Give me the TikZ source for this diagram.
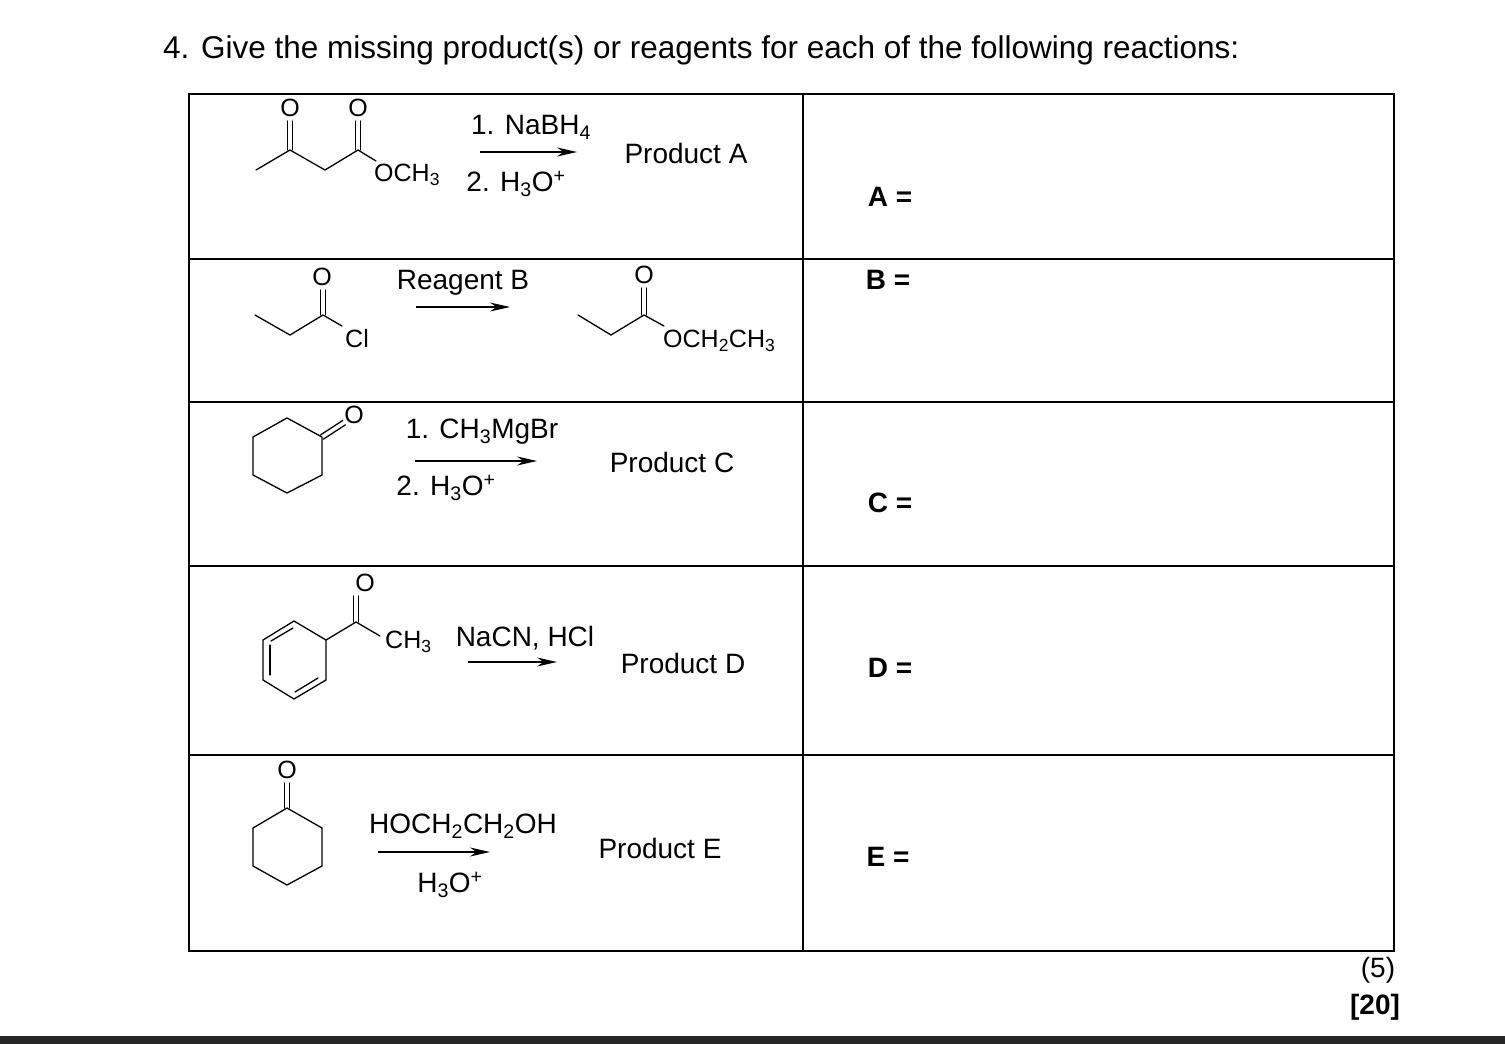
\documentclass[tikz,border=0pt]{standalone}
\usepackage{fontspec}
\setmainfont{Liberation Sans}
\usetikzlibrary{arrows.meta}
\begin{document}
\begin{tikzpicture}[x=1pt,y=-1pt,
  bond/.style={line width=1.3pt,line cap=round},
  grid/.style={line width=1.4pt},
  rxn/.style={line width=1.4pt,-{Stealth[length=20pt,width=9pt]}},
  lbl/.style={font=\fontsize{28}{30}\selectfont,inner sep=0pt},
  atom/.style={font=\fontsize{25}{27}\selectfont,inner sep=1pt},
  ans/.style={font=\fontsize{28}{30}\selectfont\bfseries,inner sep=0pt}]
\useasboundingbox (0,0) rectangle (1505,1044);
\fill[white] (0,0) rectangle (1505,1044);
\fill[black!85] (0,1036) rectangle (1505,1044);
\node[font=\fontsize{31.5}{34}\selectfont,anchor=west,inner sep=0pt] (title) at (163,50) {4. Give the missing product(s) or reagents for each of the following reactions:};
% table
\draw[grid] (189,94) rectangle (1394,951);
\foreach \y in {259,402,566,755} \draw[grid] (189,\y) -- (1394,\y);
\draw[grid] (803,94) -- (803,951);
% Row 1
\draw[bond] (256,170) -- (290,150) -- (325,170) -- (358,150) -- (376,161);
\draw[bond] (287.4,150) -- (287.4,121); \draw[bond] (292.6,150) -- (292.6,121);
\draw[bond] (355.4,150) -- (355.4,121); \draw[bond] (360.6,150) -- (360.6,121);
\node[atom] (o1a) at (290,108) {O};
\node[atom] (o1b) at (358,108) {O};
\node[atom,anchor=west] (och3) at (373,175) {OCH\textsubscript{3}};
\coordinate (a1s) at (480,152); \coordinate (a1e) at (577,152);
\draw[rxn] (a1s) -- (a1e);
\node[lbl] (r1a) at (531,127) {1. NaBH\textsubscript{4}};
\node[lbl] (r1b) at (516,184) {2. H\textsubscript{3}O\textsuperscript{+}};
\node[lbl] (pA) at (686,153) {Product A};
\node[ans] (A) at (890,197) {A =};
% Row 2
\draw[bond] (255,315) -- (290,335) -- (323,315) -- (342,326);
\draw[bond] (320.4,315) -- (320.4,290); \draw[bond] (325.6,315) -- (325.6,290);
\node[atom] (o2) at (322,277) {O};
\node[atom] (cl) at (357,339) {Cl};
\coordinate (a2s) at (416,307); \coordinate (a2e) at (510,307);
\draw[rxn] (a2s) -- (a2e);
\node[lbl] (rB) at (463,283) {Reagent B};
\draw[bond] (578,315) -- (611,335) -- (644,315) -- (664,326);
\draw[bond] (641.4,315) -- (641.4,288); \draw[bond] (646.6,315) -- (646.6,288);
\node[atom] (o2b) at (644,275) {O};
\node[atom,anchor=west] (oet) at (662,341) {OCH\textsubscript{2}CH\textsubscript{3}};
\node[ans] (B) at (888,280) {B =};
% Row 3
\draw[bond] (287,418) -- (322,437) -- (322,475) -- (287,493) -- (253,475) -- (253,437) -- cycle;
\draw[bond] (320.7,434.8) -- (342.7,420.5); \draw[bond] (323.3,439.2) -- (345.3,424.9);
\node[atom] (o3) at (354,415) {O};
\coordinate (a3s) at (415,461); \coordinate (a3e) at (537,461);
\draw[rxn] (a3s) -- (a3e);
\node[lbl] (r3a) at (482,432) {1. CH\textsubscript{3}MgBr};
\node[lbl] (r3b) at (446,488) {2. H\textsubscript{3}O\textsuperscript{+}};
\node[lbl] (pC) at (672,462) {Product C};
\node[ans] (C) at (890,503) {C =};
% Row 4
\draw[bond] (294,621) -- (326,640) -- (326,680) -- (294,699) -- (263,680) -- (263,640) -- cycle;
\draw[bond] (270,645) -- (270,675);
\draw[bond] (271,641) -- (293,628);
\draw[bond] (295,692) -- (318,678);
\draw[bond] (326,640) -- (356,622) -- (380,636);
\draw[bond] (353.4,622) -- (353.4,596); \draw[bond] (358.6,622) -- (358.6,596);
\node[atom] (o4) at (365,583) {O};
\node[atom,anchor=west] (ch3) at (384,642) {CH\textsubscript{3}};
\coordinate (a4s) at (468,662); \coordinate (a4e) at (557,662);
\draw[rxn] (a4s) -- (a4e);
\node[lbl] (r4) at (525,638) {NaCN, HCl};
\node[lbl] (pD) at (683,663) {Product D};
\node[ans] (D) at (890,668) {D =};
% Row 5
\draw[bond] (287,808) -- (322,828) -- (322,866) -- (287,885) -- (253,866) -- (253,828) -- cycle;
\draw[bond] (284.4,808) -- (284.4,783); \draw[bond] (289.6,808) -- (289.6,783);
\node[atom] (o5) at (287,770) {O};
\coordinate (a5s) at (378,852); \coordinate (a5e) at (490,852);
\draw[rxn] (a5s) -- (a5e);
\node[lbl] (r5a) at (463,826) {HOCH\textsubscript{2}CH\textsubscript{2}OH};
\node[lbl] (r5b) at (450,885) {H\textsubscript{3}O\textsuperscript{+}};
\node[lbl] (pE) at (660,848) {Product E};
\node[ans] (E) at (888,857) {E =};
% marks
\node[lbl] (m5) at (1378,970) {(5)};
\node[lbl,font=\fontsize{28}{30}\selectfont\bfseries] (m20) at (1375,1007) {[20]};
\end{tikzpicture}
\end{document}
